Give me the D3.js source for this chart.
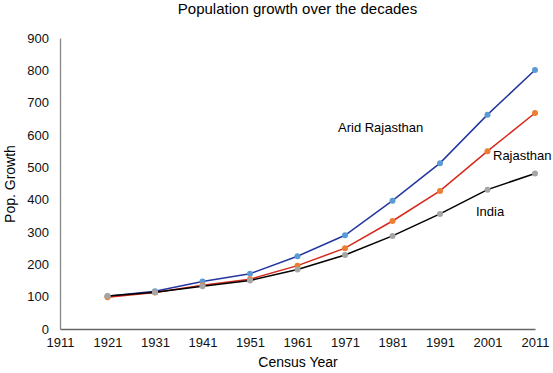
<!DOCTYPE html>
<html>
<head>
<meta charset="utf-8">
<script src="https://cdn.jsdelivr.net/npm/d3@7"></script>
<style>
  body { margin: 0; background: #fff; }
  svg { font-family: "Liberation Sans", Arial, sans-serif; }
</style>
</head>
<body>
<svg id="chart"></svg>
<script>
// Census years and indexed population growth (1921 ~ 100)
const years = [1921, 1931, 1941, 1951, 1961, 1971, 1981, 1991, 2001, 2011];
const aridRajasthan = [101, 117, 147, 171, 225, 290, 397, 513, 663, 801];
const rajasthan = [98, 113, 135, 154, 196, 250, 334, 427, 550, 668];
const india = [102, 114, 132, 150, 184, 229, 288, 356, 431, 481];
const yTicks = [0, 100, 200, 300, 400, 500, 600, 700, 800, 900];
const xTicks = [1911, 1921, 1931, 1941, 1951, 1961, 1971, 1981, 1991, 2001, 2011];

const series = [
    {name: 'Arid Rajasthan', values: aridRajasthan, line: '#2437a0', dot: '#5b9bd5', label: [338, 132]},
    {name: 'Rajasthan', values: rajasthan, line: '#d6281a', dot: '#ed7d31', label: [493, 160]},
    {name: 'India', values: india, line: '#000000', dot: '#a5a5a5', label: [476, 216]}
];

const W = 553, H = 373;
const plot = {left: 60, right: 535, top: 38, bottom: 329};

const svg = d3.select('#chart').attr('width', W).attr('height', H);

const x = d3.scaleLinear().domain([1911, 2011]).range([plot.left, plot.right]);
const y = d3.scaleLinear().domain([0, 900]).range([plot.bottom, plot.top]);

// Title
svg.append('text')
    .attr('x', 297.5).attr('y', 14)
    .attr('text-anchor', 'middle')
    .style('font-size', '15px')
    .text('Population growth over the decades');

// Y axis
const yAxis = svg.append('g')
    .attr('transform', `translate(${plot.left},0)`)
    .call(d3.axisLeft(y).tickValues(yTicks).tickSize(0).tickPadding(11));
yAxis.select('.domain').attr('stroke', '#888').attr('stroke-width', 1.3);
yAxis.selectAll('text').style('font-size', '13px').attr('fill', '#111');

// X axis
const xAxis = svg.append('g')
    .attr('transform', `translate(0,${plot.bottom})`)
    .call(d3.axisBottom(x).tickValues(xTicks).tickFormat(d3.format('d')).tickSize(0).tickPadding(9));
xAxis.select('.domain').attr('stroke', '#666').attr('stroke-width', 1.3);
xAxis.selectAll('text').style('font-size', '13px').attr('fill', '#111');

// Axis titles
svg.append('text')
    .attr('x', 298).attr('y', 367)
    .attr('text-anchor', 'middle')
    .style('font-size', '14px')
    .text('Census Year');

svg.append('text')
    .attr('transform', 'rotate(-90)')
    .attr('x', -184).attr('y', 15)
    .attr('text-anchor', 'middle')
    .style('font-size', '14px')
    .text('Pop. Growth');

// Lines and markers
const line = d3.line()
    .x((d, i) => x(years[i]))
    .y(d => y(d));

series.forEach(s => {
    svg.append('path')
        .datum(s.values)
        .attr('fill', 'none')
        .attr('stroke', s.line)
        .attr('stroke-width', 1.5)
        .attr('d', line);
});

series.forEach(s => {
    svg.selectAll(null)
        .data(s.values)
        .enter()
        .append('circle')
        .attr('cx', (d, i) => x(years[i]))
        .attr('cy', d => y(d))
        .attr('r', 3)
        .attr('fill', s.dot);
});

// Series labels
series.forEach(s => {
    svg.append('text')
        .attr('x', s.label[0]).attr('y', s.label[1])
        .style('font-size', '13px')
        .text(s.name);
});
</script>
</body>
</html>
